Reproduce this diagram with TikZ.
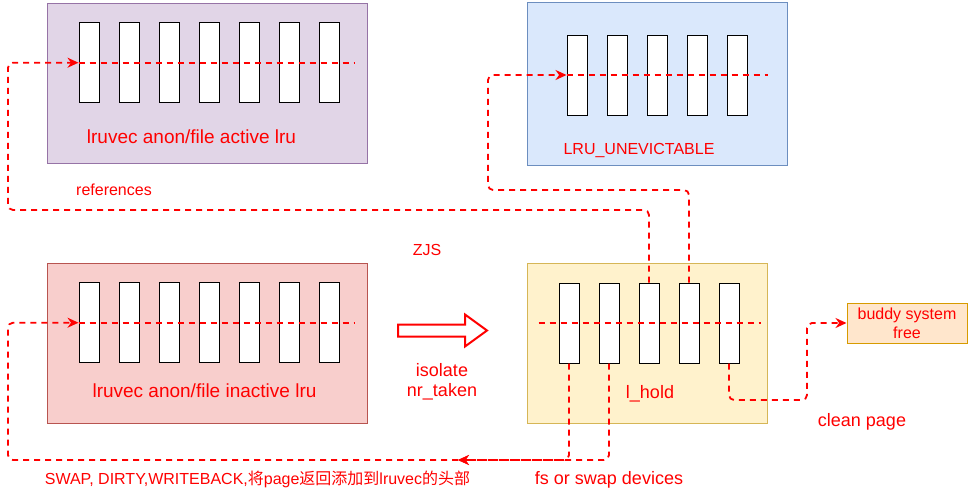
\documentclass[tikz,border=0pt]{standalone}
\usepackage{fontspec}
\setmainfont{Liberation Sans}
\newfontfamily\cjk{Noto Sans CJK SC}
\usetikzlibrary{arrows.meta,positioning}
\definecolor{LruRed}{HTML}{FF0000}
\definecolor{LruPurpleFill}{HTML}{E1D5E7}
\definecolor{LruPurpleLine}{HTML}{9673A6}
\definecolor{LruBlueFill}{HTML}{DAE8FC}
\definecolor{LruBlueLine}{HTML}{6C8EBF}
\definecolor{LruPinkFill}{HTML}{F8CECC}
\definecolor{LruPinkLine}{HTML}{B85450}
\definecolor{LruYellowFill}{HTML}{FFF2CC}
\definecolor{LruYellowLine}{HTML}{D6B656}
\definecolor{LruOrangeFill}{HTML}{FFE6CC}
\definecolor{LruOrangeLine}{HTML}{D79B00}
\tikzset{
  lru panel/.style={rectangle, line width=1pt, inner sep=0pt},
  lru page/.style={rectangle, draw=black, fill=white, line width=1pt, minimum width=20pt, minimum height=80pt, inner sep=0pt},
  lru big/.style={font=\fontsize{19}{22}\selectfont, text=LruRed},
  lru text/.style={font=\fontsize{18}{21.6}\selectfont, text=LruRed},
  lru small/.style={font=\fontsize{16}{19}\selectfont, text=LruRed},
  lru lane/.style={draw=LruRed, line width=1.8pt, dashed, dash pattern=on 6pt off 5pt},
  lru flow/.style={lru lane, rounded corners=5pt, -{Stealth[length=11pt,width=10pt]}},
  lru push/.style={draw=LruRed, fill=white, line width=2pt, line join=miter},
}

\begin{document}
\begin{tikzpicture}[x=1pt,y=-1pt]
  \useasboundingbox (0,0) rectangle (969,501);

  % active list
  \node[lru panel, draw=LruPurpleLine, fill=LruPurpleFill, minimum width=320pt, minimum height=160pt] (active) at (207,83) {};
  \foreach \i in {1,...,7}
    \node[lru page] (ac\i) at (49+40*\i,62.7) {};
  \draw[lru lane] (ac1.west) -- ([xshift=15pt]ac7.east);
  \node[lru big] (activelbl) at (191.5,136.5) {lruvec anon/file active lru};

  % unevictable list
  \node[lru panel, draw=LruBlueLine, fill=LruBlueFill, minimum width=260pt, minimum height=163pt] (unevict) at (657,83.5) {};
  \foreach \i in {1,...,5}
    \node[lru page] (un\i) at (537+40*\i,75) {};
  \draw[lru lane] (un1.west) -- ([xshift=20pt]un5.east);
  \node[lru small] (unevictlbl) at (639,150) {LRU\_UNEVICTABLE};

  % inactive list
  \node[lru panel, draw=LruPinkLine, fill=LruPinkFill, minimum width=320pt, minimum height=160pt] (inactive) at (207,343) {};
  \foreach \i in {1,...,7}
    \node[lru page] (in\i) at (49+40*\i,322.7) {};
  \draw[lru lane] (in1.west) -- ([xshift=15pt]in7.east);
  \node[lru big] (inactivelbl) at (204.5,390.5) {lruvec anon/file inactive lru};

  % isolated pages
  \node[lru panel, draw=LruYellowLine, fill=LruYellowFill, minimum width=240pt, minimum height=160pt] (hold) at (647,343) {};
  \foreach \i in {1,...,5}
    \node[lru page] (h\i) at (529+40*\i,323) {};
  \draw[lru lane] ([xshift=-20pt]h1.west) -- ([xshift=21pt]h5.east);
  \node[lru text] (holdlbl) at (650,394) {l\_hold};

  \node[lru panel, draw=LruOrangeLine, fill=LruOrangeFill, minimum width=120pt, minimum height=40pt,
    lru small, align=center] (buddy) at (907,323) {buddy system\\free};

  % isolate arrow
  \draw[lru push] (398,324.5) -- (465,324.5) -- (465,314.5) -- (487,330.5)
    -- (465,346.5) -- (465,336.5) -- (398,336.5) -- cycle;
  \node[lru text] (isolate) at (442,370) {isolate};
  \node[lru text] (taken) at (442,392) {nr\_taken};
  \node[lru small] (zjs) at (427,250) {ZJS};

  % turning points
  \coordinate (refturn) at (8,210);
  \coordinate (unturn) at (488,190);
  \coordinate (freeturn) at (807,400);
  \coordinate (ret) at (458,460);
  \coordinate (backturn) at (8,460);

  \draw[lru flow] (h3.north) |- (refturn) |- (ac1.west);
  \draw[lru flow] (h4.north) |- (unturn) |- (un1.west);
  \draw[lru flow] (h5.south) |- (freeturn) |- (buddy.west);
  \draw[lru flow] (h1.south) |- (ret);
  \draw[lru flow] (h2.south) |- (ret);
  \draw[lru flow] (ret) -- (backturn) |- (in1.west);

  \node[lru small] (refs) at (114,190) {references};
  \node[lru small] (swaplbl) at (257.5,479) {SWAP, DIRTY,WRITEBACK,{\cjk 将}page{\cjk 返回添加到}lruvec{\cjk 的头部}};
  \node[lru text] (fslbl) at (609,480) {fs or swap devices};
  \node[lru text] (cleanlbl) at (862,421.5) {clean page};
\end{tikzpicture}
\end{document}
